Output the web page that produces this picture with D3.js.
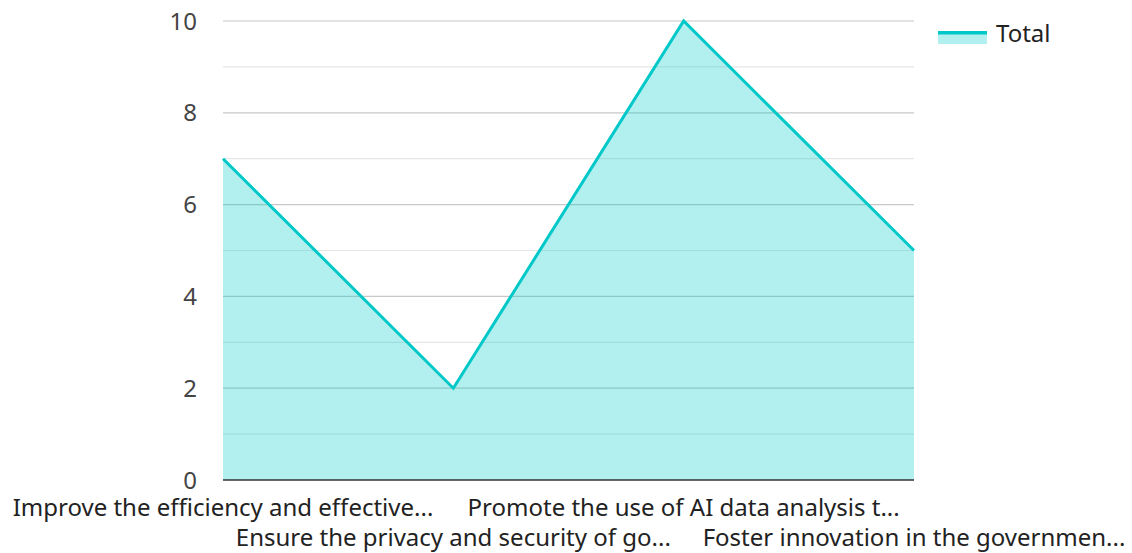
<!DOCTYPE html>
<html>
<head>
<meta charset="utf-8">
<script src="https://cdn.jsdelivr.net/npm/d3@7"></script>
<style>
  body { margin: 0; background: #fff; }
  svg { font-family: "Noto Sans", sans-serif; }
</style>
</head>
<body>
<svg id="chart" width="1132" height="553"></svg>
<script>
// data
const categories = [
  "Improve the efficiency and effective...",
  "Ensure the privacy and security of go...",
  "Promote the use of AI data analysis t...",
  "Foster innovation in the governmen..."
];
const totals = [7, 2, 10, 5];
const yTicks = [0, 2, 4, 6, 8, 10];
const yMinor = [1, 3, 5, 7, 9];
const seriesName = "Total";

const svg = d3.select("#chart");
const plotLeft = 223, plotRight = 914, plotTop = 21, plotBottom = 480;

const x = d3.scalePoint().domain(categories).range([plotLeft, plotRight]);
const y = d3.scaleLinear().domain([0, 10]).range([plotBottom, plotTop]);

// gridlines
svg.append("g").selectAll("line").data(yMinor).join("line")
  .attr("x1", plotLeft).attr("x2", plotRight)
  .attr("y1", d => y(d)).attr("y2", d => y(d))
  .attr("stroke", "#e6e6e6").attr("stroke-width", 1.2);
svg.append("g").selectAll("line").data(yTicks.filter(d => d > 0)).join("line")
  .attr("x1", plotLeft).attr("x2", plotRight)
  .attr("y1", d => y(d)).attr("y2", d => y(d))
  .attr("stroke", "#c8c8c8").attr("stroke-width", 1.2);

// area + line
const pts = categories.map((c, i) => [x(c), y(totals[i])]);
const area = d3.area().x(d => d[0]).y0(y(0)).y1(d => d[1]);
svg.append("path").attr("d", area(pts))
  .attr("fill", "#00cccc").attr("fill-opacity", 0.3);
svg.append("path").attr("d", d3.line()(pts))
  .attr("fill", "none").attr("stroke", "#00c8c8").attr("stroke-width", 3)
  .attr("stroke-linejoin", "miter");

// baseline
svg.append("line").attr("x1", plotLeft).attr("x2", plotRight)
  .attr("y1", y(0)).attr("y2", y(0))
  .attr("stroke", "#333").attr("stroke-width", 1.5);

// y labels
svg.append("g").selectAll("text").data(yTicks).join("text")
  .attr("x", 197).attr("y", d => y(d)).attr("dy", "0.36em")
  .attr("text-anchor", "end").attr("font-size", 24).attr("fill", "#444")
  .text(d => d);

// x labels (staggered)
svg.append("g").selectAll("text").data(categories).join("text")
  .attr("x", d => x(d))
  .attr("y", (d, i) => i % 2 === 0 ? 516 : 546)
  .attr("text-anchor", "middle").attr("font-size", 24).attr("fill", "#222")
  .text(d => d);

// legend
const lg = svg.append("g").attr("transform", "translate(938,31)");
lg.append("rect").attr("width", 49).attr("height", 13)
  .attr("fill", "#00cccc").attr("fill-opacity", 0.3);
lg.append("line").attr("x1", 0).attr("x2", 49).attr("y1", 1.7).attr("y2", 1.7)
  .attr("stroke", "#00c8c8").attr("stroke-width", 3.5);
lg.append("text").attr("x", 58).attr("y", 11).attr("font-size", 24)
  .attr("fill", "#222").text(seriesName);
</script>
</body>
</html>
